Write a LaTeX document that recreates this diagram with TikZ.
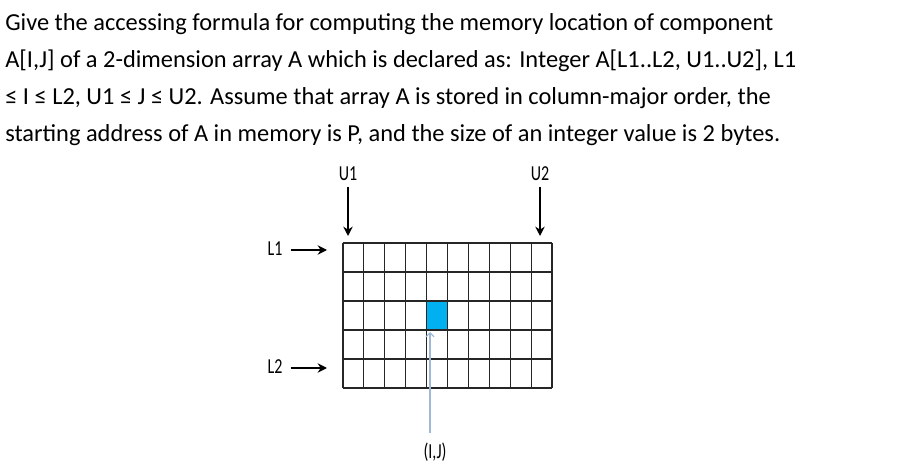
\documentclass[tikz,border=0pt]{standalone}
\usepackage{fontspec}
\setmainfont{Carlito}
\newfontfamily\labfont[FakeStretch=0.75]{Carlito}
\usetikzlibrary{arrows.meta}
\definecolor{cellblue}{HTML}{00B0F0}
\definecolor{pointer}{HTML}{9DB9D5}
\tikzset{
  textline/.style={font=\fontsize{18.3}{22}\selectfont,anchor=base west,inner sep=0pt},
  lbl/.style={font=\labfont\fontsize{16}{18}\selectfont,inner sep=1pt},
  arr/.style={-{Stealth[length=7pt,width=7pt]},line width=1.8pt}
}
\begin{document}
\begin{tikzpicture}[x=0.75pt,y=-0.75pt]
\useasboundingbox (0,0) rectangle (900,470);
\path
(5,31) node[textline](t1){Give the accessing formula for computing the memory location of component}
(5,68) node[textline](t2){A[I,J] of a 2-dimension array A which is declared as: Integer A[L1..L2, U1..U2], L1}
(5,105) node[textline](t3){≤ I ≤ L2, U1 ≤ J ≤ U2. Assume that array A is stored in column-major order, the}
(5,142) node[textline](t4){starting address of A in memory is P, and the size of an integer value is 2 bytes.};

\fill[cellblue] (426.6,301) rectangle (447.5,330);
\foreach \i in {0,...,10}
  \draw[line width=0.8pt,black!85] (343+20.9*\i,243) -- (343+20.9*\i,388);
\foreach \j in {0,...,5}
  \draw[line width=0.8pt,black!85] (343,243+29*\j) -- (552,243+29*\j);

\path
(348,174) node[lbl](u1){U1}
(540,174) node[lbl](u2){U2}
(275,249) node[lbl](l1){L1}
(275,367) node[lbl](l2){L2}
(435,452) node[lbl](ij){(I,J)};
\coordinate (a1) at (348,236);
\coordinate (a2) at (540,236);
\coordinate (b1) at (327,250);
\coordinate (b2) at (327,368);
\coordinate (c) at (430,332);

\path[draw,arr,shorten <=3pt] (u1)--(a1);
\path[draw,arr,shorten <=3pt] (u2)--(a2);
\path[draw,arr,shorten <=5pt] (l1.east |- b1)--(b1);
\path[draw,arr,shorten <=5pt] (l2.east |- b2)--(b2);
\path[draw,pointer,line width=0.9pt,-{Straight Barb[length=3pt,width=6pt]},shorten <=6pt] (ij.north -| c)--(c);
\end{tikzpicture}
\end{document}
